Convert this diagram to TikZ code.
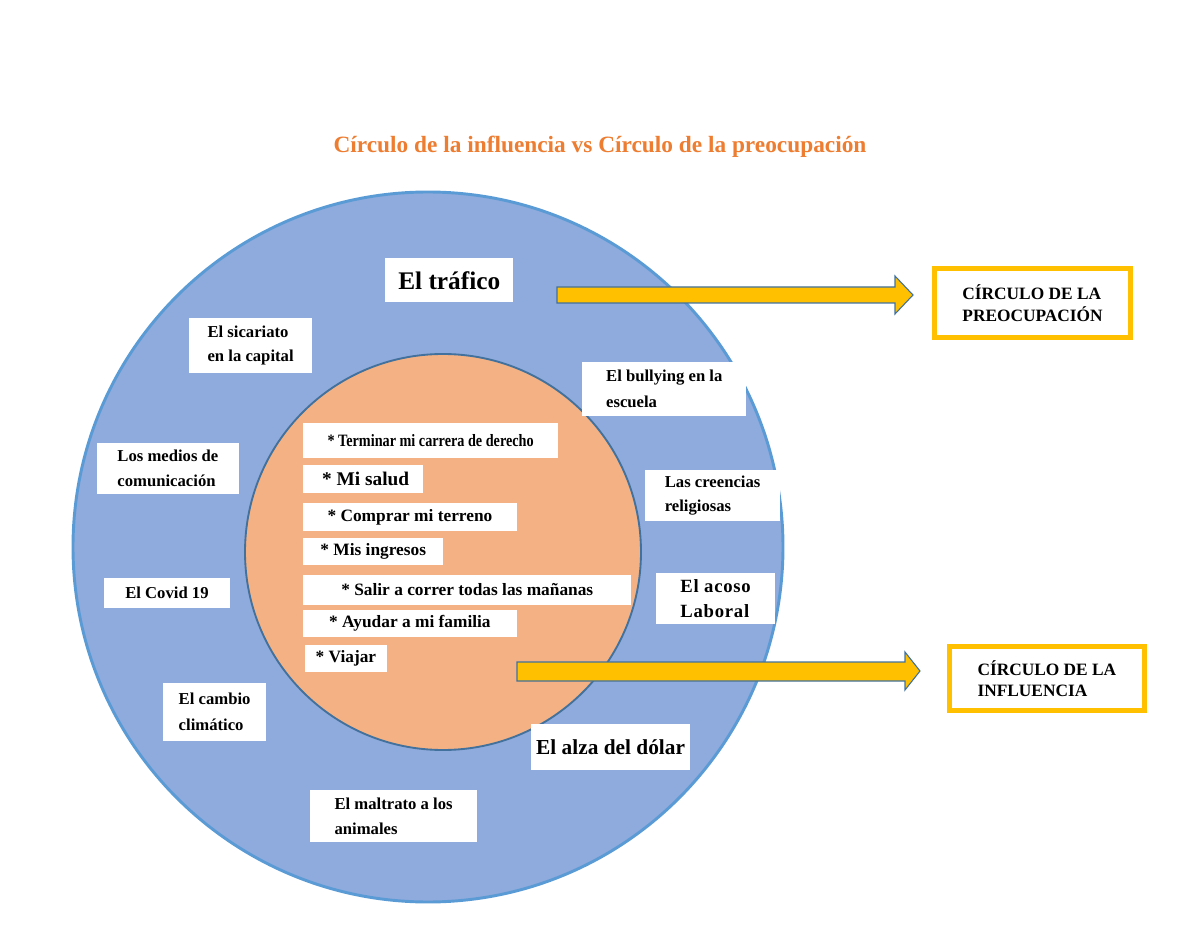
\documentclass[tikz,border=0pt]{standalone}
\usepackage{fontspec}
\setmainfont{Liberation Serif}
\definecolor{outerc}{HTML}{8FAADC}
\definecolor{outerl}{HTML}{5B9BD5}
\definecolor{innerc}{HTML}{F4B183}
\definecolor{innerl}{HTML}{41719C}
\definecolor{gold}{HTML}{FFC000}
\definecolor{ttl}{HTML}{ED7D31}
\tikzset{
 lab/.style={fill=white,anchor=north west,align=left,inner xsep=3pt,inner ysep=2pt,font=\bfseries},
 gbox/.style={draw=gold,line width=3.8pt,fill=white,anchor=north west,align=left,inner xsep=6pt,inner ysep=3pt,font=\bfseries\fontsize{13}{16}\selectfont},
 barrow/.style={fill=gold,draw=innerl,line width=0.8pt}
}
\newcommand{\fs}[2]{\fontsize{#1}{#2}\selectfont}
\begin{document}
\begin{tikzpicture}[x=0.75pt,y=-0.75pt]
\useasboundingbox (0,0) rectangle (1200,927);
\node[text=ttl,font=\bfseries\fs{17.5}{20}] (title) at (600,147) {Círculo de la influencia vs Círculo de la preocupación};
\fill[outerc,draw=outerl,line width=2.2pt] (428,547) circle[radius=266.25pt];
\fill[innerc,draw=innerl,line width=1.4pt] (443,552) circle[radius=148.5pt];
% outer labels
\node[lab,font=\bfseries\fs{19}{22},minimum width=96pt,minimum height=33pt] (traf) at (385,258) {El tráfico};
\node[lab,font=\bfseries\fs{12.5}{18.5},minimum width=92pt,minimum height=41pt] (sic) at (189,318) {El sicariato\\en la capital};
\node[lab,font=\bfseries\fs{12.5}{19},minimum width=123pt,minimum height=40pt] (bul) at (582,362) {El bullying en la\\escuela};
\node[lab,font=\bfseries\fs{12.5}{18.5},minimum width=106pt,minimum height=38pt] (med) at (97,443) {Los medios de\\comunicación};
\node[lab,font=\bfseries\fs{12.5}{18.5},minimum width=101pt,minimum height=38pt] (cre) at (645,470) {Las creencias\\religiosas};
\node[lab,font=\bfseries\fs{12.5}{15},minimum width=94pt,minimum height=22pt] (cov) at (104,578) {El Covid 19};
\node[lab,font=\bfseries\fs{14}{18.5},minimum width=89pt,minimum height=38pt] (aco) at (656,573) {\addfontfeatures{LetterSpace=4}El acoso\\\addfontfeatures{LetterSpace=4}Laboral};
\node[lab,font=\bfseries\fs{12.5}{19},minimum width=77pt,minimum height=43pt] (cam) at (163,683) {El cambio\\climático};
\node[lab,font=\bfseries\fs{16}{20},minimum width=119pt,minimum height=34pt] (alz) at (531,724) {El alza del dólar};
\node[lab,font=\bfseries\fs{12.5}{18.5},minimum width=125pt,minimum height=39pt] (mal) at (310,790) {El maltrato a los\\animales};
% inner labels
\node[lab,font=\bfseries\fs{13}{15},minimum width=191pt,minimum height=26pt] (ter) at (303,423) {\scalebox{0.82}[1]{* Terminar mi carrera de derecho}};
\node[lab,font=\bfseries\fs{14.5}{16},minimum width=90pt,minimum height=21pt] (sal) at (303,465) {\ * Mi salud};
\node[lab,font=\bfseries\fs{13}{15},minimum width=160pt,minimum height=21pt] (com) at (303,503) {* Comprar mi terreno};
\node[lab,font=\bfseries\fs{13}{15},minimum width=105pt,minimum height=20pt] (ing) at (303,538) {* Mis ingresos};
\node[lab,font=\bfseries\fs{13}{15},minimum width=246pt,minimum height=22pt] (sali) at (303,575) {* Salir a correr todas las mañanas};
\node[lab,font=\bfseries\fs{13}{15},minimum width=160pt,minimum height=20pt] (ayu) at (303,610) {* Ayudar a mi familia};
\node[lab,font=\bfseries\fs{13}{15},minimum width=61pt,minimum height=20pt] (via) at (305,645) {* Viajar};
% arrows
\draw[barrow] (557,287) -- (895,287) -- (895,276) -- (913,295) -- (895,314) -- (895,303) -- (557,303) -- cycle;
\draw[barrow] (517,662) -- (905,662) -- (905,652) -- (920,671) -- (905,690) -- (905,681) -- (517,681) -- cycle;
% right boxes
\node[gbox,minimum width=147pt,minimum height=52pt] (pre) at (932,266) {CÍRCULO DE LA\\PREOCUPACIÓN};
\node[gbox,minimum width=146pt,minimum height=48pt] (inf) at (947,644) {CÍRCULO DE LA\\INFLUENCIA};
\end{tikzpicture}
\end{document}
